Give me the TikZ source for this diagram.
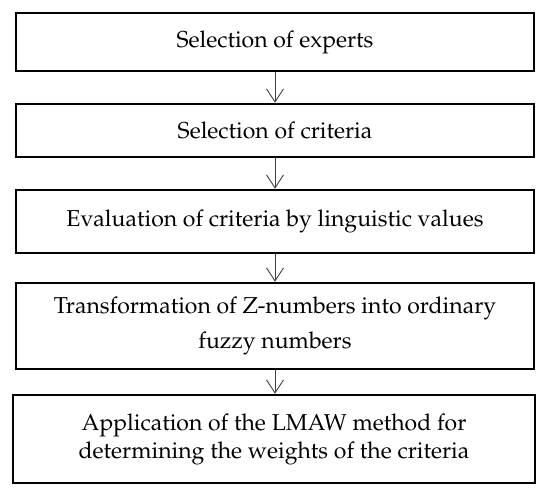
\documentclass[tikz,border=0pt]{standalone}
\usepackage[T1]{fontenc}
\usepackage{mathpazo}
\usetikzlibrary{arrows.meta}
\tikzstyle{stage} = [draw=black, line width=2.6pt, minimum width=518pt, inner sep=0pt, align=center, font=\fontsize{23}{28}\selectfont]
\tikzstyle{flow} = [-{Straight Barb[length=13pt,width=17pt]}, line width=0.9pt, draw=black!75]

\begin{document}
\begin{tikzpicture}[x=1pt,y=-1pt]
    \useasboundingbox (0,0) rectangle (550,501);
    \node[stage, minimum height=58pt] (s1) at (275,42) {Selection of experts};
    \node[stage, minimum height=53pt] (s2) at (275,130.5) {Selection of criteria};
    \node[stage, minimum height=63pt] (s3) at (275,221.5) {Evaluation of criteria by linguistic values};
    \node[stage, minimum height=86pt, font=\fontsize{23}{35}\selectfont] (s4) at (275,326) {Transformation of Z-numbers into ordinary\\fuzzy numbers};
    \node[stage, minimum height=88pt, minimum width=522pt] (s5) at (274,439) {Application of the LMAW method for\\determining the weights of the criteria};

    \draw[flow] (s1) -- (s2);
    \draw[flow] (s2) -- (s3);
    \draw[flow] (s3) -- (s4);
    \draw[flow] (s4.south) -- (s4.south |- s5.north);
\end{tikzpicture}
\end{document}
